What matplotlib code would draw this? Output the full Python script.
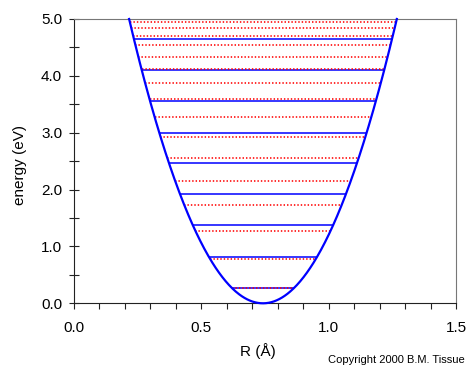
import numpy as np
import matplotlib
matplotlib.use("Agg")
import matplotlib.pyplot as plt
from matplotlib.ticker import MultipleLocator, FormatStrFormatter

# Harmonic potential well parameters
well_center = 0.742   # equilibrium bond length R0 (Å)
well_k = 18.1         # curvature (eV / Å^2)
e_max = 5.0           # top of the plotted well (eV)

# Harmonic vibrational levels (blue solid lines), eV
blue_levels = [0.274, 0.809, 1.372, 1.917, 2.462, 3.000, 3.553, 4.100, 4.643]
# Anharmonic vibrational levels (red dotted lines), eV
red_levels = [0.264, 0.784, 1.272, 1.729, 2.151, 2.564, 2.930, 3.271, 3.588,
              3.869, 4.115, 4.326, 4.548, 4.706, 4.836, 4.942]

x_ticks = [0.0, 0.5, 1.0, 1.5]
y_ticks = [0.0, 1.0, 2.0, 3.0, 4.0, 5.0]

plt.rcParams['font.family'] = ['Liberation Sans', 'DejaVu Sans']

W, H = 474, 376
fig = plt.figure(figsize=(W / 100, H / 100), dpi=100)
ax = fig.add_axes([74 / W, 1 - 303.3 / H, 382 / W, 284.3 / H])

blue = '#0000ff'


def half_width(e):
    return np.sqrt(e / well_k)


hw = half_width(e_max)
R = np.linspace(well_center - hw, well_center + hw, 400)
E = well_k * (R - well_center) ** 2
ax.plot(R, E, color=blue, lw=1.6, clip_on=False, zorder=4)

for e in blue_levels:
    w = half_width(e)
    ax.plot([well_center - w, well_center + w], [e, e], color=blue, lw=1.1,
            solid_capstyle='butt', zorder=3)

for e in red_levels:
    w = half_width(e)
    ax.plot([well_center - w, well_center + w], [e, e], color='#ff0000',
            lw=1.15, linestyle=(0, (0.9, 1.25)), zorder=3.5)

ax.set_xlim(0, 1.5)
ax.set_ylim(0, 5.0)
ax.set_xticks(x_ticks)
ax.set_yticks(y_ticks)
ax.xaxis.set_minor_locator(MultipleLocator(0.1))
ax.yaxis.set_minor_locator(MultipleLocator(0.5))
ax.xaxis.set_major_formatter(FormatStrFormatter('%.1f'))
ax.yaxis.set_major_formatter(FormatStrFormatter('%.1f'))

ax.tick_params(axis='x', which='both', direction='out', length=4, width=0.8,
               labelsize=11, pad=9, color='#222222')
ax.tick_params(axis='y', which='both', direction='inout', length=7, width=0.8,
               labelsize=11, pad=5, color='#222222')

for s in ['left', 'bottom']:
    ax.spines[s].set_color('#222222')
    ax.spines[s].set_linewidth(0.8)
for s in ['top', 'right']:
    ax.spines[s].set_color('#777777')
    ax.spines[s].set_linewidth(0.8)

fig.text(20 / W, 1 - 165 / H, 'energy (eV)', rotation=90, ha='center',
         va='center', fontsize=11)
fig.text(258 / W, 1 - 350.7 / H, 'R (Å)', ha='center', va='center',
         fontsize=11)
fig.text(328 / W, 1 - 360 / H, 'Copyright 2000 B.M. Tissue', ha='left',
         va='center', fontsize=8)

fig.savefig('out.png', dpi=100)
